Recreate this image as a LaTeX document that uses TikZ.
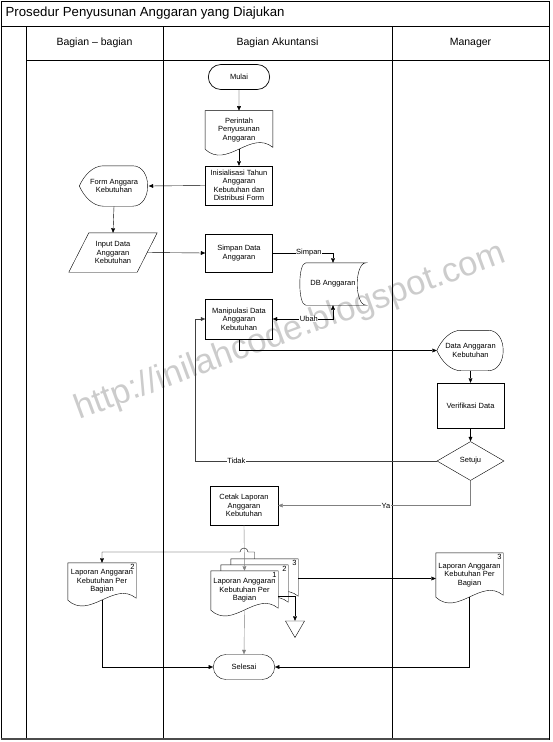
\documentclass[tikz,border=0pt]{standalone}
\usepackage{fontspec}
\setmainfont{Liberation Sans}
\usetikzlibrary{shapes.geometric,shapes.misc,arrows.meta,positioning}

\pgfdeclarelayer{latar}
\pgfsetlayers{latar,main}

% garis tepi bentuk-bentuk khusus
\newcommand{\dokumen}[1]{%
  \begin{pgfonlayer}{latar}
  \draw[fill=white] (#1.south west) -- (#1.north west) -- (#1.north east) -- ([yshift=2pt]#1.south east)
    .. controls ([xshift=-22pt,yshift=20pt]#1.south east) and ([xshift=22pt,yshift=-20pt]#1.south west) .. (#1.south west) -- cycle;
  \end{pgfonlayer}}
\newcommand{\tampilan}[1]{%
  \draw (#1.west) .. controls ([xshift=5pt,yshift=-9pt]#1.north west) and ([xshift=14pt]#1.north west) .. ([xshift=24pt]#1.north west)
    -- ([xshift=-16pt]#1.north east) .. controls ([xshift=4pt]#1.north east) and ([xshift=4pt]#1.south east) .. ([xshift=-16pt]#1.south east)
    -- ([xshift=24pt]#1.south west) .. controls ([xshift=14pt]#1.south west) and ([xshift=5pt,yshift=9pt]#1.south west) .. (#1.west) -- cycle;}
\newcommand{\simpanan}[1]{%
  \draw ([xshift=6pt]#1.north west) -- (#1.north east) .. controls ([xshift=-12pt]#1.north east) and ([xshift=-12pt]#1.south east) .. (#1.south east)
    -- ([xshift=6pt]#1.south west) .. controls ([xshift=-2pt]#1.south west) and ([xshift=-2pt]#1.north west) .. ([xshift=6pt]#1.north west) -- cycle;}
\newcommand{\masukan}[1]{%
  \draw ([xshift=20pt]#1.north west) -- (#1.north east) -- ([xshift=-20pt]#1.south east) -- (#1.south west) -- cycle;}

\begin{document}
\begin{tikzpicture}[x=1pt,y=-1pt,line width=0.7pt,
    font=\fontsize{7.5}{8.5}\selectfont,
    >={Triangle[length=4.5pt,width=3.8pt]},
    terminal/.style={rounded rectangle, draw, minimum width=68, minimum height=25},
    proses/.style={rectangle, draw, minimum width=67, minimum height=39, align=center, inner sep=1pt},
    bentuk/.style={minimum width=67, minimum height=39, align=center, inner sep=1pt},
    putusan/.style={diamond, draw, minimum width=67, minimum height=39, inner sep=0pt},
    arsipan/.style={regular polygon, regular polygon sides=3, shape border rotate=180, draw, minimum size=22, inner sep=0pt},
    nomor/.style={label={[anchor=north east, inner sep=1.5pt]north east:#1}},
    teks/.style={fill=white, inner sep=0.5pt},
    abu/.style={draw=black!50},
    kolom/.style={font=\fontsize{10.5}{12}\selectfont}]

  \useasboundingbox (0,0) rectangle (552,742);

  % kerangka swimlane
  \draw (1,1) rectangle (549,739);
  \draw (1,26) -- (549,26);
  \draw (26,26) -- (26,739);
  \draw (26,60) -- (549,60);
  \draw (163,26) -- (163,739);
  \draw (392,26) -- (392,739);
  \draw[line width=1.6pt, black!70] (1,739) -- (549,739);

  \node[anchor=west, font=\fontsize{13.2}{15}\selectfont] (judul) at (2,13) {Prosedur Penyusunan Anggaran yang Diajukan};
  \node[kolom] (bagian) at (94.5,43) {Bagian -- bagian};
  \node[kolom] (akuntansi) at (277.5,43) {Bagian Akuntansi};
  \node[kolom] (manager) at (470.5,43) {Manager};

  % bagian akuntansi
  \node[terminal] (mulai) at (239,77) {Mulai};
  \node[bentuk, minimum height=38] (perintah) at (239,130) {Perintah\\Penyusunan\\Anggaran};
  \dokumen{perintah}
  \node[proses] (inisial) at (239,185.5) {Inisialisasi Tahun\\Anggaran\\Kebutuhan dan\\Distribusi Form};
  \node[proses, minimum height=38] (simpan) at (239,253) {Simpan Data\\Anggaran};
  \node[bentuk, minimum width=66, minimum height=42] (db) at (333,284) {DB Anggaran};
  \simpanan{db}
  \node[proses, minimum height=40] (manip) at (239,319) {Manipulasi Data\\Anggaran\\Kebutuhan};
  \node[proses, minimum width=68] (cetak) at (244,505.5) {Cetak Laporan\\Anggaran\\Kebutuhan};

  \node[bentuk, nomor=3] (doc3) at (264.5,578.5) {};
  \dokumen{doc3}
  \node[bentuk, nomor=2] (doc2) at (254.5,584.5) {};
  \dokumen{doc2}
  \node[bentuk, nomor=1] (doc1) at (244.5,590.5) {Laporan Anggaran\\Kebutuhan Per\\Bagian};
  \dokumen{doc1}
  \node[arsipan] (arsip) at (295,626.5) {};
  \node[terminal] (selesai) at (244,667) {Selesai};

  % bagian - bagian
  \node[bentuk, minimum width=69, minimum height=40] (form) at (114,186) {Form Anggara\\Kebutuhan};
  \tampilan{form}
  \node[bentuk, minimum width=88, minimum height=39] (input) at (113,252.5) {Input Data\\Anggaran\\Kebutuhan};
  \masukan{input}
  \node[bentuk, minimum width=68, minimum height=37, nomor=2] (lap2) at (102,581.5) {Laporan Anggaran\\Kebutuhan Per\\Bagian};
  \dokumen{lap2}

  % manager
  \node[bentuk, minimum width=67, minimum height=40] (datamgr) at (470.5,350.5) {Data Anggaran\\Kebutuhan};
  \tampilan{datamgr}
  \node[proses, minimum height=45] (verif) at (470.5,405.5) {Verifikasi Data};
  \node[putusan] (setuju) at (470.5,461) {Setuju};
  \node[bentuk, minimum width=67, minimum height=44, nomor=3] (lap3) at (469.5,575) {Laporan Anggaran\\Kebutuhan Per\\Bagian};
  \dokumen{lap3}

  % watermark
  \node[rotate=20.3, anchor=base west, text=black, text opacity=0.2, font=\fontsize{34.5}{36}\selectfont] (tanda) at (76,421) {http://inilahcode.blogspot.com};

  % alur
  \draw[->] (mulai) -- (perintah);
  \draw[->] (perintah.south) -- (inisial.north);
  \draw[->] (inisial.west) -- (form.east);
  \draw[->] (form.south) -- (input.north);
  \draw[->] ([xshift=-10pt]input.east) -- (simpan.west);
  \draw[->] (simpan.east) -- node[teks, pos=0.6] {Simpan} (simpan.east -| db.north) -- (db.north);
  \draw[<->] (manip.east) -- node[teks, pos=0.6] {Ubah} (manip.east -| db.south) -- (db.south);
  \draw[->] (manip.south) |- (datamgr.west);
  \draw[->] (datamgr.south) -- (verif.north);
  \draw[->] (verif.south) -- (setuju.north);
  \draw[->, draw=black!75] (setuju.west) -- node[teks, pos=0.83] {Tidak} ([xshift=-10pt]manip.west |- setuju.west) |- (manip.west);
  \draw[->, abu] (setuju.south) |- node[teks, pos=0.72, text=black] {Ya} (cetak.east);
  \draw[->, abu] (cetak.south) -- (doc1.north);
  \coordinate (cabang) at (244,552);
  \draw[->] ([xshift=-10pt]doc3.north) |- ([xshift=4pt]cabang) arc[start angle=0, end angle=180, radius=4pt] -| (lap2.north);
  \draw[->] (doc3.east) -- (doc3.east -| lap3.west);
  \draw[->] ([yshift=-6pt]doc1.east) -| (arsip.north);
  \draw[->, abu] (doc1.south) -- (selesai.north);
  \draw[->] (lap2.south) |- (selesai.west);
  \draw[->] (lap3.south) |- (selesai.east);
\end{tikzpicture}
\end{document}
